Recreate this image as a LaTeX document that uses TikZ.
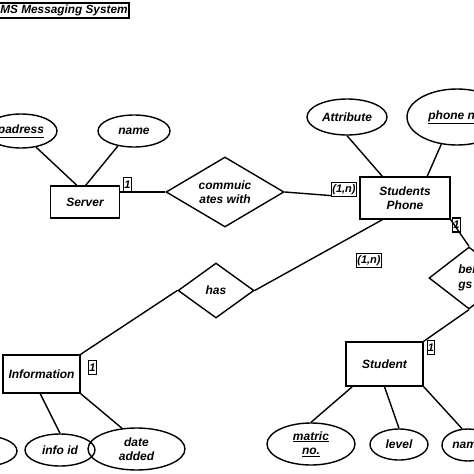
\documentclass[tikz,border=0pt]{standalone}
\usepackage{fontspec}
\setmainfont{Liberation Sans}
\usetikzlibrary{shapes.geometric,calc}
\begin{document}
\begin{tikzpicture}[x=1pt,y=-1pt,
  every node/.style={font=\fontsize{12}{14.5}\selectfont\bfseries\itshape},
  ent/.style={draw, line width=1.5pt, rectangle, inner sep=0pt, align=center},
  attr/.style={draw, line width=1.4pt, ellipse, inner sep=0pt, align=center},
  rel/.style={draw, line width=1.4pt, diamond, inner sep=0pt, align=center},
  card/.style={draw, line width=1.2pt, inner sep=0.8pt, minimum height=14pt, font=\fontsize{11}{12}\selectfont\bfseries\itshape},
  conn/.style={line width=1.4pt}]
\useasboundingbox (0,0) rectangle (474,474);
\clip (0,0) rectangle (474,474);

% title
\node[draw, line width=1.4pt, minimum width=130pt, minimum height=15pt, inner sep=0pt,
      font=\fontsize{11.8}{13}\selectfont\bfseries\itshape] (title) at (64,10.5) {MS Messaging System};

% server side
\node[attr, minimum width=72pt, minimum height=34pt] (ip) at (21,131) {\underline{padress}};
\node[attr, minimum width=72pt, minimum height=32pt] (name) at (134,131) {name};
\node[ent, minimum width=69pt, minimum height=32pt] (server) at (85,202) {Server};
\node[card] (c1) at (127.5,184.5) {1};

\node[rel, shape aspect=1.7, minimum width=118pt, minimum height=70pt] (comm) at (225,192) {commuic\\ates with};

% students phone
\node[ent, minimum width=90pt, minimum height=42pt] (sp) at (405,198) {Students\\Phone};
\node[card] (c2) at (344,189.5) {(1,n)};
\node[attr, minimum width=80pt, minimum height=36pt] (attrib) at (347,117) {Attribute};
\node[attr, minimum width=100pt, minimum height=56pt] (phone) at (457,117) {\underline{phone no.}};
\node[card] (c3) at (456.5,225) {1};

\node[rel, shape aspect=1.3, minimum width=80pt, minimum height=62pt, align=left] (bel) at (469,278) {bel-\\gs};
\node[card] (c4) at (369,260.5) {(1,n)};

% student
\node[ent, minimum width=77pt, minimum height=44pt] (stu) at (384.5,364) {Student};
\node[card] (c5) at (431,347.5) {1};
\node[attr, minimum width=88pt, minimum height=42pt] (matric) at (311,444) {\underline{matric}\\\underline{no.}};
\node[attr, minimum width=58pt, minimum height=31pt] (level) at (399,444.5) {level};
\node[attr, minimum width=52pt, minimum height=32pt] (sname) at (468,445) {name};

% information
\node[rel, shape aspect=1.4, minimum width=76pt, minimum height=55pt] (has) at (216,290.5) {has};
\node[ent, minimum width=77pt, minimum height=38pt] (info) at (41.5,374) {Information};
\node[card] (c6) at (92.5,367.5) {1};
\node[attr, minimum width=64pt, minimum height=30pt] (left) at (-15,451) {};
\node[attr, minimum width=70pt, minimum height=32pt] (infoid) at (60,450) {info id};
\node[attr, minimum width=97pt, minimum height=42pt] (date) at (136.5,449) {date\\added};

% connectors
\draw[conn] (ip.-47) -- ($(server.north west)+(27,0)$);
\draw[conn] (name.-137) -- ($(server.north west)+(36,0)$);
\draw[conn] ($(server.east)+(0,-10)$) -- (comm.west);
\draw[conn] (comm.east) -- ($(c2.south west)+(0,-1.5)$);
\draw[conn] (attrib.south) -- ($(sp.north west)+(23,0)$);
\draw[conn] (phone.-120) -- ($(sp.north west)+(68,0)$);
\draw[conn] (sp.south east) -- (bel.north);
\draw[conn] (bel.south) -- (stu.north east);
\draw[conn] ($(sp.south west)+(23,0)$) -- (has.east);
\draw[conn] (has.west) -- (info.north east);
\draw[conn] ($(info.south west)+(38,0)$) -- (infoid.north);
\draw[conn] (info.south east) -- (date.125);
\draw[conn] ($(stu.south west)+(7,0)$) -- (matric.north);
\draw[conn] (stu.south) -- (level.north);
\draw[conn] (stu.south east) -- (sname.110);
\end{tikzpicture}
\end{document}
